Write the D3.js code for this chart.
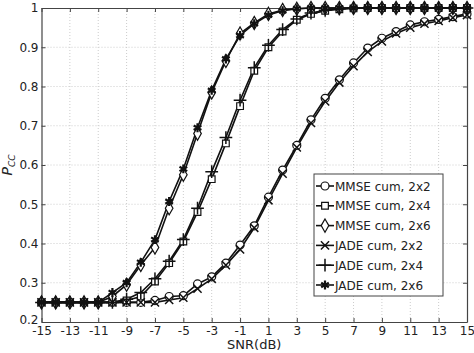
<!DOCTYPE html>
<html>
<head>
<meta charset="utf-8">
<script src="https://cdn.jsdelivr.net/npm/d3@7"></script>
<style>
  body { margin: 0; background: #fff; }
  text { font-family: "DejaVu Sans", sans-serif; fill: #222; }
</style>
</head>
<body>
<div id="chart"></div>
<script>
// SNR values (dB)
const snr = [-15,-14,-13,-12,-11,-10,-9,-8,-7,-6,-5,-4,-3,-2,-1,0,1,2,3,4,5,6,7,8,9,10,11,12,13,14,15];

const mmse2x2 = [0.25,0.25,0.25,0.25,0.25,0.25,0.25,0.25,0.255,0.265,0.267,0.297,0.315,0.35,0.396,0.445,0.518,0.587,0.65,0.715,0.77,0.817,0.86,0.898,0.923,0.94,0.957,0.965,0.971,0.978,0.985];
const mmse2x4 = [0.25,0.25,0.25,0.25,0.25,0.25,0.255,0.265,0.303,0.35,0.405,0.48,0.564,0.655,0.75,0.84,0.9,0.94,0.97,0.985,0.993,0.997,0.999,1,1,1,1,1,1,1,1];
const mmse2x6 = [0.25,0.25,0.25,0.25,0.25,0.265,0.295,0.345,0.39,0.49,0.575,0.68,0.785,0.865,0.935,0.962,0.985,0.995,0.998,1,1,1,1,1,1,1,1,1,1,1,1];
const jade2x2 = [0.25,0.25,0.25,0.25,0.25,0.25,0.25,0.25,0.25,0.256,0.262,0.285,0.31,0.345,0.385,0.44,0.51,0.578,0.645,0.707,0.762,0.81,0.852,0.888,0.915,0.935,0.95,0.96,0.967,0.975,0.982];
const jade2x4 = [0.25,0.25,0.25,0.25,0.25,0.25,0.258,0.275,0.31,0.355,0.41,0.49,0.583,0.67,0.765,0.848,0.905,0.945,0.972,0.987,0.994,0.998,1,1,1,1,1,1,1,1,1];
const jade2x6 = [0.25,0.25,0.25,0.25,0.25,0.275,0.3,0.352,0.41,0.507,0.59,0.695,0.79,0.87,0.93,0.96,0.982,0.993,0.998,1,1,1,1,1,1,1,1,1,1,1,1];

const seriesNames = ["MMSE cum, 2x2","MMSE cum, 2x4","MMSE cum, 2x6","JADE cum, 2x2","JADE cum, 2x4","JADE cum, 2x6"];
const xTicks = [-15,-13,-11,-9,-7,-5,-3,-1,1,3,5,7,9,11,13,15];
const yTicks = [0.2,0.3,0.4,0.5,0.6,0.7,0.8,0.9,1];

const W = 474, H = 353;
const margin = {top: 8, right: 7, bottom: 31, left: 41.5},
    width = W - margin.left - margin.right,
    height = H - margin.top - margin.bottom;

const svg = d3.select("#chart")
  .append("svg")
    .attr("width", W)
    .attr("height", H)
  .append("g")
    .attr("transform", "translate(" + margin.left + "," + margin.top + ")");

const x = d3.scaleLinear().domain([-15, 15]).range([0, width]);
const y = d3.scaleLinear().domain([0.2, 1]).range([height, 0]);

// grid
svg.append("g").selectAll("line")
  .data(xTicks.slice(1, -1))
  .enter().append("line")
  .attr("x1", d => x(d)).attr("x2", d => x(d))
  .attr("y1", 0).attr("y2", height)
  .attr("stroke", "#ccc").attr("stroke-dasharray", "1,2");
svg.append("g").selectAll("line")
  .data(yTicks.slice(1, -1))
  .enter().append("line")
  .attr("y1", d => y(d)).attr("y2", d => y(d))
  .attr("x1", 0).attr("x2", width)
  .attr("stroke", "#ccc").attr("stroke-dasharray", "1,2");

// axes (plain hyphen for negatives, like the original)
const xAxis = svg.append("g")
  .attr("transform", `translate(0,${height})`)
  .call(d3.axisBottom(x).tickValues(xTicks).tickSizeInner(-4).tickSizeOuter(0).tickPadding(3).tickFormat(d => String(d)));
const yAxis = svg.append("g")
  .call(d3.axisLeft(y).tickValues(yTicks).tickSizeInner(-4).tickSizeOuter(0).tickPadding(3).tickFormat(d => d === 1 ? "1" : d3.format(".1f")(d)));
const xTop = svg.append("g")
  .call(d3.axisTop(x).tickValues(xTicks).tickSizeInner(-4).tickSizeOuter(0).tickFormat(""));
const yRight = svg.append("g")
  .attr("transform", `translate(${width},0)`)
  .call(d3.axisRight(y).tickValues(yTicks).tickSizeInner(-4).tickSizeOuter(0).tickFormat(""));

[xAxis, yAxis, xTop, yRight].forEach(g => {
  g.select(".domain").attr("stroke", "#444").attr("stroke-width", 1.2);
  g.selectAll(".tick line").attr("stroke", "#444");
  g.selectAll("text").style("font-size", "12px").attr("fill", "#222");
});
// keep "0.2" clear of "-15"
yAxis.selectAll(".tick text").filter(d => d === 0.2).attr("dy", "0.1em");
xAxis.selectAll(".tick text").attr("dy", "0.8em");

// series
const allSeries = [mmse2x2, mmse2x4, mmse2x6, jade2x2, jade2x4, jade2x6];
const symbols = [d3.symbolCircle, d3.symbolSquare, d3.symbolDiamond, d3.symbolTimes, d3.symbolPlus, d3.symbolAsterisk];
const symSizes = [50, 45, 50, 45, 55, 55];
const symFill = ["#fff", "#fff", "#fff", "none", "none", "none"];
const symStroke = [1.2, 1.2, 1.2, 1.5, 1.5, 2.2];

const line = d3.line()
  .x((d, i) => x(snr[i]))
  .y(d => y(d));

allSeries.forEach((vals, k) => {
  svg.append("path")
    .datum(vals)
    .attr("fill", "none")
    .attr("stroke", "#111")
    .attr("stroke-width", 1.6)
    .attr("d", line);
});

allSeries.forEach((vals, k) => {
  svg.append("g")
    .selectAll("path")
    .data(vals)
    .enter().append("path")
    .attr("transform", (d, i) => `translate(${x(snr[i])},${y(d)})`)
    .attr("d", d3.symbol().type(symbols[k]).size(symSizes[k]))
    .attr("fill", symFill[k])
    .attr("stroke", "#111")
    .attr("stroke-width", symStroke[k]);
});

// axis labels
svg.append("text")
  .attr("text-anchor", "middle")
  .attr("x", x(0))
  .attr("y", height + 26.5)
  .style("font-size", "13px")
  .text("SNR(dB)");

const yl = svg.append("text")
  .attr("text-anchor", "middle")
  .attr("transform", `translate(${-30},${y(0.6)}) rotate(-90)`)
  .style("font-size", "14px");
yl.append("tspan").style("font-style", "italic").text("P");
yl.append("tspan").attr("dy", 3).style("font-size", "9px").style("font-style", "italic").text("CC");

// legend
const lg = svg.append("g").attr("transform", `translate(${314 - margin.left},${174 - margin.top})`);
lg.append("rect")
  .attr("width", 129).attr("height", 122)
  .attr("fill", "#fff").attr("stroke", "#444").attr("stroke-width", 1);
seriesNames.forEach((name, k) => {
  const cy = 12 + k * 19.8;
  lg.append("line").attr("x1", 2).attr("x2", 20).attr("y1", cy).attr("y2", cy)
    .attr("stroke", "#111").attr("stroke-width", 1.6);
  lg.append("path")
    .attr("transform", `translate(11,${cy})`)
    .attr("d", d3.symbol().type(symbols[k]).size(symSizes[k]))
    .attr("fill", symFill[k]).attr("stroke", "#111").attr("stroke-width", symStroke[k]);
  lg.append("text")
    .attr("x", 21).attr("y", cy + 4.5)
    .style("font-size", "12px")
    .text(name);
});
</script>
</body>
</html>
